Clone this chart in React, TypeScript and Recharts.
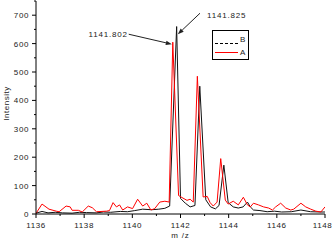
import React from 'react';
import { LineChart, Line, XAxis, YAxis, ReferenceLine, Legend } from 'recharts';

const FONT = '"Liberation Sans", Arial, sans-serif';

// Series A (red)
const aMz = [1136.0, 1136.25, 1136.54, 1136.84, 1136.96, 1137.25, 1137.42, 1137.5, 1137.76, 1137.92, 1138.17, 1138.34, 1138.51, 1138.93, 1139.05, 1139.2, 1139.34, 1139.47, 1139.6, 1139.8, 1140.01, 1140.22, 1140.43, 1140.6, 1140.77, 1140.93, 1141.14, 1141.35, 1141.53, 1141.68, 1141.92, 1142.06, 1142.27, 1142.4, 1142.53, 1142.7, 1142.94, 1143.11, 1143.23, 1143.36, 1143.52, 1143.67, 1143.86, 1143.98, 1144.19, 1144.4, 1144.61, 1144.78, 1144.9, 1145.03, 1145.24, 1145.45, 1145.66, 1145.82, 1145.95, 1146.16, 1146.37, 1146.58, 1146.7, 1147.0, 1147.2, 1147.41, 1147.62, 1147.83, 1148.0];
const aIntensity = [2, 35, 17, 10, 8, 28, 25, 13, 13, 7, 28, 22, 8, 10, 12, 40, 25, 32, 14, 25, 19, 52, 28, 38, 14, 19, 42, 45, 42, 605, 65, 58, 48, 52, 42, 485, 60, 62, 40, 28, 42, 195, 49, 35, 45, 32, 59, 32, 25, 38, 32, 25, 21, 14, 25, 38, 21, 14, 17, 38, 25, 17, 10, 7, 25];

// Series B (black)
const bMz = [1136.0, 1136.25, 1136.5, 1136.8, 1137.1, 1137.5, 1137.8, 1138.1, 1138.5, 1138.8, 1139.1, 1139.5, 1139.8, 1140.1, 1140.43, 1140.8, 1141.1, 1141.35, 1141.55, 1141.84, 1142.0, 1142.2, 1142.4, 1142.6, 1142.8, 1143.05, 1143.25, 1143.45, 1143.6, 1143.8, 1143.98, 1144.19, 1144.4, 1144.6, 1144.78, 1144.9, 1145.03, 1145.3, 1145.6, 1145.9, 1146.2, 1146.6, 1147.0, 1147.4, 1147.83, 1148.0];
const bIntensity = [3, 9, 4, 6, 4, 3, 6, 5, 4, 7, 6, 9, 8, 12, 17, 15, 17, 20, 28, 660, 55, 38, 25, 30, 450, 50, 25, 18, 30, 172, 40, 25, 21, 25, 42, 25, 14, 12, 8, 10, 7, 8, 14, 8, 7, 7];

const xTicks = [1136, 1137, 1138, 1139, 1140, 1141, 1142, 1143, 1144, 1145, 1146, 1147, 1148];
const yTicks = [0, 50, 100, 150, 200, 250, 300, 350, 400, 450, 500, 550, 600, 650, 700, 750];
const yMajorStep = 100;
const xMajorStep = 2;

const peakLabelA = '1141.802';
const peakLabelB = '1141.825';
// annotation anchors in data units
const arrowA = [{ x: 1139.85, y: 633 }, { x: 1141.64, y: 598 }];
const arrowB = [{ x: 1142.81, y: 707 }, { x: 1141.89, y: 633 }];

const aData = aMz.map((m, i) => ({ mz: m, A: aIntensity[i] }));
const bData = bMz.map((m, i) => ({ mz: m, B: bIntensity[i] }));

const XTick = (props: any) => {
  const { x, y, payload } = props;
  const major = (payload.value - 1136) % xMajorStep === 0;
  const tx = Math.min(x, 322.5);
  return (
    <g>
      <line x1={x} x2={x} y1={y} y2={y + (major ? 4 : 2)} stroke="#000" strokeWidth={1} />
      {major && (
        <text x={tx} y={y + 14} textAnchor="middle" fontSize={8} fill="#222" fontFamily={FONT} letterSpacing={0.6}>
          {payload.value}
        </text>
      )}
    </g>
  );
};

const YTick = (props: any) => {
  const { x, y, payload } = props;
  const major = payload.value % yMajorStep === 0;
  return (
    <g>
      <line x1={x - (major ? 4 : 2)} x2={x} y1={y} y2={y} stroke="#000" strokeWidth={1} />
      {major && (
        <text x={x - 7} y={y + 3} textAnchor="end" fontSize={8} fill="#222" fontFamily={FONT} letterSpacing={0.6}>
          {payload.value}
        </text>
      )}
    </g>
  );
};

const makeArrow = (label: string, anchor: 'start' | 'end', dx: number, dy: number) => (p: any) => {
  const { x1, y1, x2, y2 } = p;
  const ang = Math.atan2(y2 - y1, x2 - x1);
  const L = 6, W = 2.2;
  const bx = x2 - L * Math.cos(ang);
  const by = y2 - L * Math.sin(ang);
  const px = -Math.sin(ang) * W;
  const py = Math.cos(ang) * W;
  return (
    <g>
      <line x1={x1} y1={y1} x2={bx} y2={by} stroke="#222" strokeWidth={1} />
      <polygon points={`${x2},${y2} ${bx + px},${by + py} ${bx - px},${by - py}`} fill="#222" />
      <text x={x1 + dx} y={y1 + dy} textAnchor={anchor} fontSize={8} fill="#222" fontFamily={FONT} letterSpacing={0.8}>
        {label}
      </text>
    </g>
  );
};

const LegendBox = () => (
  <svg width={37} height={30} style={{ display: 'block' }}>
    <rect x={0.5} y={0.5} width={36} height={29} fill="#fff" stroke="#000" strokeWidth={1} />
    <line x1={3} x2={26} y1={13.5} y2={13.5} stroke="#000" strokeDasharray="3 2" strokeWidth={1} />
    <text x={28} y={12} fontSize={8} fill="#222" fontFamily={FONT}>B</text>
    <line x1={3} x2={26} y1={22.5} y2={22.5} stroke="#f00" strokeWidth={1} />
    <text x={28} y={25} fontSize={8} fill="#222" fontFamily={FONT}>A</text>
  </svg>
);

const YLabel = (props: any) => {
  const vb = props.viewBox;
  const cx = vb.x + 6;
  const cy = vb.y + vb.height / 2 - 4;
  return (
    <text x={cx} y={cy} dy="0.35em" transform={`rotate(-90, ${cx}, ${cy})`} textAnchor="middle" fontSize={8} fill="#222" fontFamily={FONT} letterSpacing={0.5}>
      Intensity
    </text>
  );
};

const XLabel = (props: any) => {
  const vb = props.viewBox;
  return (
    <text x={vb.x + vb.width / 2} y={vb.y + 24} textAnchor="middle" fontSize={8} fill="#222" fontFamily={FONT} letterSpacing={0.8}>
      m /z
    </text>
  );
};

export default function App() {
  return (
    <div style={{ position: 'absolute', left: 0, top: 0, background: '#fff' }}>
      <LineChart width={333} height={240} margin={{ top: 1, right: 8, left: 0, bottom: 0 }}>
        <XAxis
          dataKey="mz"
          type="number"
          domain={[1136, 1148]}
          ticks={xTicks}
          interval={0}
          allowDataOverflow
          height={26}
          tickSize={0}
          tickMargin={0}
          tickLine={false}
          axisLine={{ stroke: '#000' }}
          tick={<XTick />}
          label={{ content: <XLabel /> }}
        />
        <YAxis
          type="number"
          domain={[0, 750]}
          ticks={yTicks}
          interval={0}
          allowDataOverflow
          width={36}
          tickSize={0}
          tickMargin={0}
          tickLine={false}
          axisLine={{ stroke: '#000' }}
          tick={<YTick />}
          label={{ content: <YLabel /> }}
        />
        <Legend
          layout="horizontal"
          verticalAlign="middle"
          align="center"
          content={<LegendBox />}
          wrapperStyle={{ left: 212, top: 30, width: 37, height: 30 }}
        />
        <Line data={bData} dataKey="B" type="linear" stroke="#111" strokeWidth={1} dot={false} isAnimationActive={false} />
        <Line data={aData} dataKey="A" type="linear" stroke="#f00" strokeWidth={1} dot={false} isAnimationActive={false} />
        <ReferenceLine segment={arrowA} ifOverflow="visible" shape={makeArrow(peakLabelA, 'end', -1, 3)} />
        <ReferenceLine segment={arrowB} ifOverflow="visible" shape={makeArrow(peakLabelB, 'start', 7, 5)} />
      </LineChart>
    </div>
  );
}
